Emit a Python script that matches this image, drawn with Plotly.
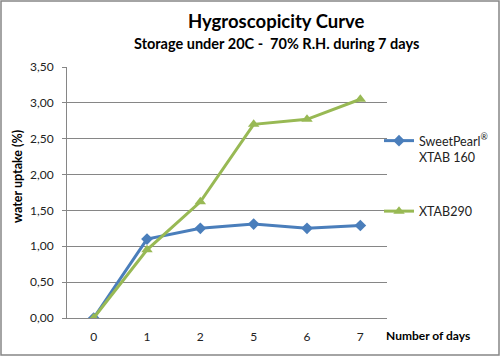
import plotly.graph_objects as go

days = ["0", "1", "2", "5", "6", "7"]
sweetpearl = [0.0, 1.10, 1.25, 1.31, 1.25, 1.29]
xtab290 = [0.0, 0.95, 1.62, 2.70, 2.77, 3.05]
y_ticks = [0, 0.5, 1.0, 1.5, 2.0, 2.5, 3.0, 3.5]

FONT = "Lato"
W, H = 500, 356
L, R, T, B = 67, 113, 67, 38
pw = W - L - R
ph = H - T - B


def px(x):
    return (x - L) / pw


def py(y):
    return (H - B - y) / ph


fig = go.Figure()
fig.add_trace(go.Scatter(
    x=days, y=sweetpearl, name="SweetPearl<sup>®</sup><br>XTAB 160",
    mode="lines+markers",
    line=dict(color="#4A7EBB", width=3),
    marker=dict(symbol="diamond", size=9, color="#4A7EBB"),
    legendgroup="a",
))
fig.add_trace(go.Scatter(
    x=days, y=xtab290, name="XTAB290",
    mode="lines+markers",
    line=dict(color="#98B954", width=3),
    marker=dict(symbol="triangle-up", size=10, color="#98B954"),
    legendgroup="b",
))


def ann(text, x, y, size, angle=0):
    return dict(text=text, x=px(x), y=py(y), xref="paper", yref="paper",
                xanchor="center", yanchor="middle", showarrow=False,
                textangle=angle, font=dict(size=size, color="#000000"))


fig.update_layout(
    width=W, height=H,
    margin=dict(l=L, r=R, t=T, b=B, autoexpand=False),
    paper_bgcolor="white", plot_bgcolor="white",
    separators=",.",
    font=dict(family=FONT, size=12, color="#222222"),
    showlegend=True,
    legend=dict(xref="container", yref="container",
                x=379 / W, xanchor="left", y=1 - 126 / H, yanchor="top",
                valign="top",
                font=dict(size=12.5, color="#222222"),
                traceorder="grouped", tracegroupgap=35,
                itemwidth=30, bgcolor="rgba(0,0,0,0)"),
    xaxis=dict(type="category", range=[-0.5, 5.5], showgrid=False,
               showline=True, linecolor="#868686", linewidth=1,
               ticks="", ticklabelstandoff=8,
               tickfont=dict(size=12, color="#222222")),
    yaxis=dict(range=[0, 3.5], tickvals=y_ticks, tickformat=".2f",
               showgrid=True, gridcolor="#868686", gridwidth=1,
               showline=True, linecolor="#868686", linewidth=1,
               ticks="outside", ticklen=4, tickcolor="#868686",
               ticklabelstandoff=6,
               zeroline=False, tickfont=dict(size=12, color="#222222")),
    annotations=[
        ann("<b>Hygroscopicity Curve</b>", 276, 21, 18.5),
        ann("<b>Storage under 20C -  70% R.H. during 7 days</b>", 276, 43, 14.5),
        ann("<b>water uptake (%)</b>", 17, 177, 12.5, -90),
        ann("<b>Number of days</b>", 428, 335, 12),
    ],
)

fig.add_shape(type="rect", xref="paper", yref="paper",
              x0=px(1), x1=px(499), y0=py(355), y1=py(1),
              line=dict(color="#868686", width=1.5), layer="below")

fig.write_html("out.html", config={"displayModeBar": False},
               post_script="document.body.style.margin='0';document.body.style.overflow='hidden';")
